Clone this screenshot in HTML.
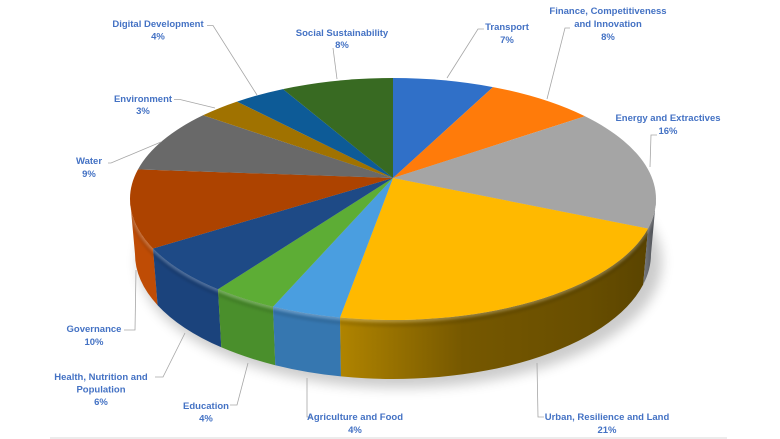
<!DOCTYPE html>
<html><head><meta charset="utf-8"><style>
html,body{margin:0;padding:0;background:#fff;}
svg{display:block}
text{font-family:"Liberation Sans",Arial,sans-serif;font-size:9.5px;font-weight:bold;fill:#4472c4;text-anchor:middle}
</style></head><body>
<svg width="780" height="439" viewBox="0 0 780 439" xmlns="http://www.w3.org/2000/svg">
<defs>
<filter id="blur" x="-20%" y="-30%" width="140%" height="160%"><feGaussianBlur stdDeviation="6"/></filter>
<filter id="sb" x="-5%" y="-20%" width="110%" height="140%"><feGaussianBlur stdDeviation="1.2"/></filter>
<linearGradient id="gU" gradientUnits="userSpaceOnUse" x1="340" y1="0" x2="648" y2="0">
<stop offset="0" stop-color="#b08400"/><stop offset="0.4" stop-color="#765800"/><stop offset="0.8" stop-color="#684e00"/><stop offset="1" stop-color="#5a4400"/>
</linearGradient>
<linearGradient id="gE" gradientUnits="userSpaceOnUse" x1="643" y1="0" x2="656" y2="0">
<stop offset="0" stop-color="#7a7c80"/><stop offset="1" stop-color="#45484e"/>
</linearGradient>
<clipPath id="sideClip">
<path d="M130,199 A263,121 0 0 0 656,199 L651,254 A258,125 0 0 1 135,254 Z"/>
</clipPath>
</defs>

<line x1="50" y1="438" x2="727" y2="438" stroke="#d9d9d9" stroke-width="1"/>

<!-- shadow -->
<ellipse cx="400" cy="262" rx="262" ry="126" fill="#000" opacity="0.2" filter="url(#blur)"/>

<!-- sides -->
<path d="M130,199 A263,121 0 0 0 153,248.5 L157.6,305.2 A258,125 0 0 1 135,254 Z" fill="#bf4c05"/>
<path d="M153,248.5 A263,121 0 0 0 218,289.3 L221.3,347.3 A258,125 0 0 1 157.6,305.2 Z" fill="#1b437c"/>
<path d="M218,289.3 A263,121 0 0 0 273,306.7 L275.3,365.2 A258,125 0 0 1 221.3,347.3 Z" fill="#4a8f2c"/>
<path d="M273,306.7 A263,121 0 0 0 340,317.5 L341,376.4 A258,125 0 0 1 275.3,365.2 Z" fill="#3677b0"/>
<path d="M340,317.5 A263,121 0 0 0 648,228.6 L643.2,284.5 A258,125 0 0 1 341,376.4 Z" fill="url(#gU)"/>
<path d="M648,228.6 A263,121 0 0 0 656,199 L651,254 A258,125 0 0 1 643.2,284.5 Z" fill="url(#gE)"/>

<!-- side bevel shading (clipped to side) -->
<g clip-path="url(#sideClip)">
<path d="M130,199 A263,121 0 0 0 656,199" fill="none" stroke="#fff" stroke-opacity="0.22" stroke-width="5" filter="url(#sb)"/>
<path d="M130,204 A263,121 0 0 0 656,204" fill="none" stroke="#000" stroke-opacity="0.10" stroke-width="4" filter="url(#sb)"/>
</g>

<!-- top -->
<g>
<path d="M393,178 L393,78 A263,121 0 0 1 493,87.1 Z" fill="#3070c8"/>
<path d="M393,178 L493,87.1 A263,121 0 0 1 585,116.3 Z" fill="#ff7b0a"/>
<path d="M393,178 L585,116.3 A263,121 0 0 1 648,228.6 Z" fill="#a5a5a5"/>
<path d="M393,178 L648,228.6 A263,121 0 0 1 340,317.5 Z" fill="#ffb900"/>
<path d="M393,178 L340,317.5 A263,121 0 0 1 273,306.7 Z" fill="#4a9ee0"/>
<path d="M393,178 L273,306.7 A263,121 0 0 1 218,289.3 Z" fill="#5dad35"/>
<path d="M393,178 L218,289.3 A263,121 0 0 1 153,248.5 Z" fill="#1e4a86"/>
<path d="M393,178 L153,248.5 A263,121 0 0 1 138,169.4 Z" fill="#ad4300"/>
<path d="M393,178 L138,169.4 A263,121 0 0 1 203,115.3 Z" fill="#696969"/>
<path d="M393,178 L203,115.3 A263,121 0 0 1 237,101.6 Z" fill="#a07200"/>
<path d="M393,178 L237,101.6 A263,121 0 0 1 283,89.1 Z" fill="#0d5b97"/>
<path d="M393,178 L283,89.1 A263,121 0 0 1 393,78 Z" fill="#386a22"/>
</g>

<!-- leader lines -->
<g fill="none" stroke="#a6a6a6" stroke-width="0.8">
<polyline points="207,25.5 213,25.5 257,95"/>
<polyline points="333,48 337,79"/>
<polyline points="174,99.5 180,99.5 215,108"/>
<polyline points="108,163 111,163 161,142"/>
<polyline points="447,78 478,29 484,29"/>
<polyline points="547,99 565,28 570,28"/>
<polyline points="650,167 651,135 657,135"/>
<polyline points="136,270 135,330 124,330"/>
<polyline points="185,333 163,377 155,377"/>
<polyline points="248,363 237,405 230,405"/>
<polyline points="307,378 307,417 311,417"/>
<polyline points="537,363 538,417 544,417"/>
</g>

<!-- labels -->
<text x="158" y="27">Digital Development</text>
<text x="158" y="39.5">4%</text>
<text x="342" y="36">Social Sustainability</text>
<text x="342" y="48">8%</text>
<text x="143" y="102">Environment</text>
<text x="143" y="114">3%</text>
<text x="89" y="164">Water</text>
<text x="89" y="177">9%</text>
<text x="507" y="30">Transport</text>
<text x="507" y="43">7%</text>
<text x="608" y="14">Finance, Competitiveness</text>
<text x="608" y="27">and Innovation</text>
<text x="608" y="40">8%</text>
<text x="668" y="121">Energy and Extractives</text>
<text x="668" y="134">16%</text>
<text x="94" y="332">Governance</text>
<text x="94" y="345">10%</text>
<text x="101" y="380">Health, Nutrition and</text>
<text x="101" y="392.5">Population</text>
<text x="101" y="405">6%</text>
<text x="206" y="409">Education</text>
<text x="206" y="421.5">4%</text>
<text x="355" y="420">Agriculture and Food</text>
<text x="355" y="433">4%</text>
<text x="607" y="420">Urban, Resilience and Land</text>
<text x="607" y="433">21%</text>
</svg>
</body></html>
